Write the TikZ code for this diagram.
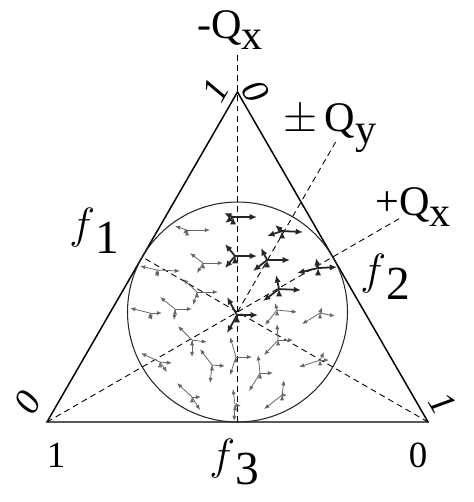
\documentclass[tikz,border=0pt]{standalone}
\usepackage{fontspec}
\setmainfont{Liberation Serif}
\newfontfamily\labfont{Liberation Serif}
\usetikzlibrary{arrows.meta}

\newcommand{\lowsub}[1]{\raisebox{-0.28em}{#1}}

\tikzset{
    tri/.style={line width=0.85pt},
    incirc/.style={line width=0.6pt, black!85},
    qaxis/.style={line width=0.5pt, dash pattern=on 3.4pt off 2.3pt},
    ray/.style={line width=0.45pt, black!60, -{Latex[length=3pt,width=2.4pt]}},
    boldray/.style={line width=1pt, black!85, -{Latex[length=4.2pt,width=3.6pt]}},
    qlab/.style={inner sep=0pt, font=\labfont\fontsize{24}{28}\selectfont},
    flab/.style={inner sep=0pt, font=\labfont\fontsize{31}{35}\selectfont},
    vlab/.style={inner sep=0pt, font=\labfont\fontsize{21}{25}\selectfont}
}

\begin{document}
\begin{tikzpicture}
    \useasboundingbox (-4.75,-3.8) rectangle (4.73,6.24);

    % triangle and its incircle
    \coordinate (O) at (0,0);
    \coordinate (A) at (210:4.4);
    \coordinate (B) at (330:4.4);
    \coordinate (C) at (90:4.4);
    \draw[tri] (A) -- (B) -- (C) -- cycle;
    \draw[incirc] (O) circle [radius=2.2];

    % axes
    \coordinate (T3) at (0,-2.2);
    \coordinate (QxTop) at (0,5.2);
    \coordinate (QxEnd) at (30:3.75);
    \coordinate (M1) at (150:2.2);
    \coordinate (QyEnd) at (60:4.0);
    \draw[qaxis] (T3) -- (QxTop);
    \draw[qaxis] (A) -- (QxEnd);
    \draw[qaxis] (B) -- (M1);
    \draw[qaxis] (O) -- (QyEnd);

    % labels
    \node[qlab] (mQx) at (-0.15,5.64) {-Q\lowsub{x}};
    \node[qlab] (pmQy) at (1.85,3.68) {$\pm$\,Q\lowsub{y}};
    \node[qlab] (pQx) at (3.51,2.1) {+Q\lowsub{x}};
    \node[flab] (f1) at (-2.87,1.62) {$f$\lowsub{\fontsize{27}{30}\selectfont 1}};
    \node[flab] (f2) at (2.95,0.7) {$f$\lowsub{\fontsize{27}{30}\selectfont 2}};
    \node[flab] (f3) at (-0.07,-3.0) {$f$\lowsub{\fontsize{27}{30}\selectfont 3}};
    \node[vlab] (a1) at (-3.63,-2.86) {1};
    \node[vlab] (b0) at (3.61,-2.86) {0};
    \node[vlab, rotate=60] (a0) at (-4.19,-1.8) {\itshape 0};
    \node[vlab, rotate=-60] (b1) at (4.11,-1.82) {\itshape 1};
    \node[vlab, rotate=60] (c1) at (-0.43,4.44) {\itshape 1};
    \node[vlab, rotate=-60] (c0) at (0.37,4.42) {\itshape 0};

    % orientation glyphs
    \begin{scope}[shift={(-4.75,6.24)}, x=0.02cm, y=-0.02cm]
        \foreach \cx/\cy/\ux/\uy/\vx/\vy/\wx/\wy in {
            233/217/257/217/224/213/225/223,
            282/231/303/232/275/225/267/236,
            235/256/257/256/225/244/225/268,
            267/260/290/260/261/248/253/271,
            318/268/337/267/316/258/297/273,
            279/289/301/290/276/275/263/301,
            237/315/258/315/227/297/227/333}
            \draw[boldray] (\cx,\cy) edge (\ux,\uy) edge (\vx,\vy) edge (\wx,\wy);
        \foreach \cx/\cy/\ux/\uy/\vx/\vy/\wx/\wy in {
            187/230/210/230/175/226/183/234,
            203/263/223/263/190/253/197/273,
            157/270/180/271/140/266/158/277,
            197/292/218/292/183/279/193/305,
            175/309/192/309/160/297/174/320,
            150/313/162/313/130/308/152/320,
            277/310/297/312/275/303/265/325,
            320/313/335/316/322/307/302/324,
            192/340/207/342/178/326/192/357,
            212/365/225/366/200/349/210/383,
            236/357/252/357/230/337/230/375,
            260/373/273/373/258/355/249/391,
            278/340/293/340/277/324/264/355,
            160/362/172/363/141/353/167/372,
            320/360/329/360/324/352/299/367,
            192/397/201/397/177/383/200/410,
            282/395/287/395/284/380/264/409,
            235/405/241/406/233/389/234/421}
            \draw[ray] (\cx,\cy) edge (\ux,\uy) edge (\vx,\vy) edge (\wx,\wy);
    \end{scope}
\end{tikzpicture}
\end{document}
